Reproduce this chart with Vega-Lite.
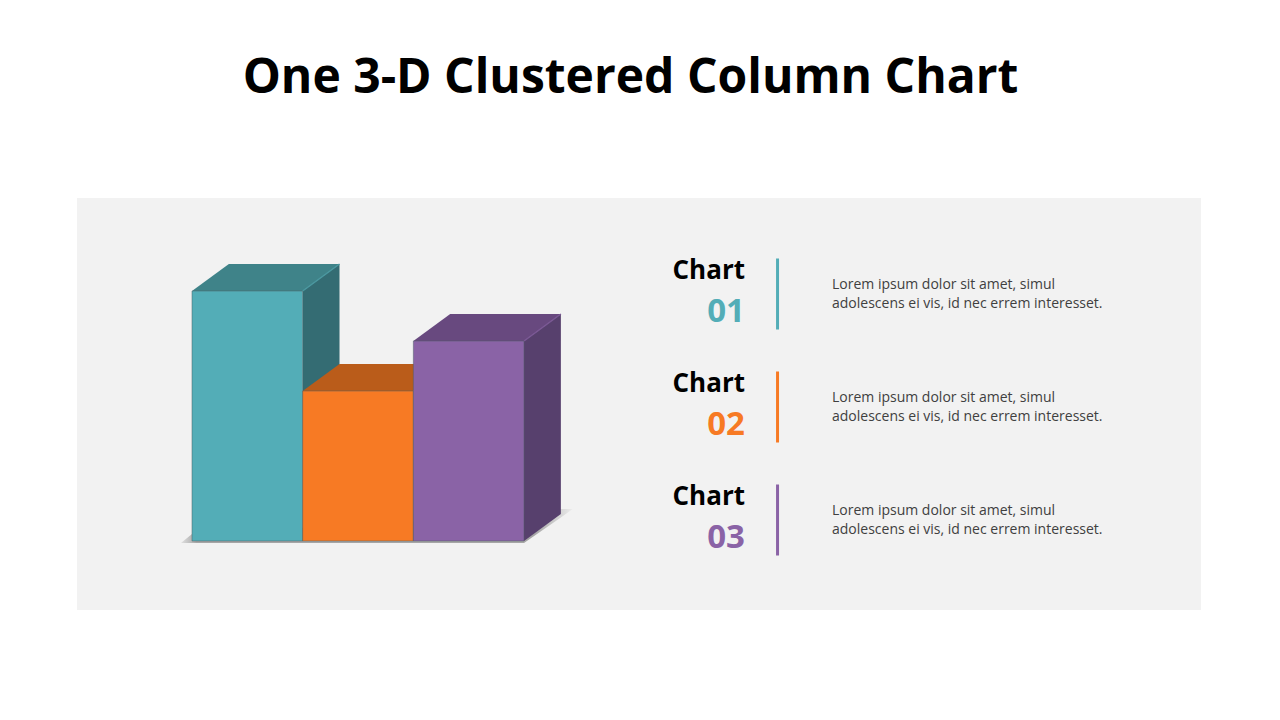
{
  "$schema": "https://vega.github.io/schema/vega-lite/v6.json",
  "background": "#ffffff",
  "padding": {"left": 77, "top": 55, "right": 0, "bottom": 0},
  "title": {
    "text": "One 3-D Clustered Column Chart",
    "font": "Open Sans",
    "fontWeight": "bold",
    "fontSize": 48,
    "color": "#000000",
    "anchor": "middle",
    "dx": -8.5,
    "offset": 95
  },
  "config": {"view": {"stroke": null}, "concat": {"spacing": 0}},
  "resolve": {"scale": {"color": "independent"}},
  "datasets": {
    "fronts": [
      {"part": "01 front", "start": 0, "end": 1, "value": 5},
      {"part": "02 front", "start": 1, "end": 2, "value": 3},
      {"part": "03 front", "start": 2, "end": 3, "value": 4}
    ],
    "faces": [
      {"part": "01 side", "x": 1, "y": 5, "y2": 0},
      {"part": "01 side", "x": 1.333, "y": 5.54, "y2": 0.54},
      {"part": "01 top", "x": 0, "y": 5, "y2": 5},
      {"part": "01 top", "x": 0.333, "y": 5.54, "y2": 5},
      {"part": "01 top", "x": 1, "y": 5.54, "y2": 5},
      {"part": "01 top", "x": 1.333, "y": 5.54, "y2": 5.54},
      {"part": "02 side", "x": 2, "y": 3, "y2": 0},
      {"part": "02 side", "x": 2.333, "y": 3.54, "y2": 0.54},
      {"part": "02 top", "x": 1, "y": 3, "y2": 3},
      {"part": "02 top", "x": 1.333, "y": 3.54, "y2": 3},
      {"part": "02 top", "x": 2, "y": 3.54, "y2": 3},
      {"part": "02 top", "x": 2.333, "y": 3.54, "y2": 3.54},
      {"part": "03 side", "x": 3, "y": 4, "y2": 0},
      {"part": "03 side", "x": 3.333, "y": 4.54, "y2": 0.54},
      {"part": "03 top", "x": 2, "y": 4, "y2": 4},
      {"part": "03 top", "x": 2.333, "y": 4.54, "y2": 4},
      {"part": "03 top", "x": 3, "y": 4.54, "y2": 4},
      {"part": "03 top", "x": 3.333, "y": 4.54, "y2": 4.54}
    ],
    "shadow": [
      {"x": -0.1, "y": -0.04, "y2": -0.04},
      {"x": 0, "y": 0.14, "y2": -0.04},
      {"x": 3, "y": 0.52, "y2": -0.04},
      {"x": 3.333, "y": 0.64, "y2": 0.47},
      {"x": 3.44, "y": 0.64, "y2": 0.64}
    ],
    "edges": [
      {"part": "01 edge", "x": 1, "y": 5},
      {"part": "01 edge", "x": 1.333, "y": 5.54},
      {"part": "03 edge", "x": 3, "y": 4},
      {"part": "03 edge", "x": 3.333, "y": 4.54}
    ],
    "notes": [
      {"chart": "01", "name": "Chart", "line1": "Lorem ipsum dolor sit amet, simul", "line2": "adolescens ei vis, id nec errem interesset."},
      {"chart": "02", "name": "Chart", "line1": "Lorem ipsum dolor sit amet, simul", "line2": "adolescens ei vis, id nec errem interesset."},
      {"chart": "03", "name": "Chart", "line1": "Lorem ipsum dolor sit amet, simul", "line2": "adolescens ei vis, id nec errem interesset."}
    ]
  },
  "hconcat": [
    {
      "width": 563,
      "height": 412,
      "view": {"fill": "#f2f2f2"},
      "encoding": {
        "x": {"field": "x", "type": "quantitative", "axis": null, "scale": {"domain": [-1.039, 4.048], "nice": false, "zero": false}},
        "y": {"field": "y", "type": "quantitative", "axis": null, "stack": null, "scale": {"domain": [-1.38, 6.86], "nice": false, "zero": false}},
        "color": {
          "field": "part",
          "type": "nominal",
          "legend": null,
          "scale": {
            "domain": ["01 front", "01 top", "01 side", "01 edge", "02 front", "02 top", "02 side", "03 front", "03 top", "03 side", "03 edge"],
            "range": ["#53adb7", "#3f8389", "#346c73", "#4a979f", "#f77a24", "#ba5c1a", "#a04f16", "#8a63a6", "#68497f", "#57406d", "#7a5894"]
          }
        }
      },
      "layer": [
        {
          "data": {"name": "shadow"},
          "mark": {"type": "area"},
          "encoding": {
            "y2": {"field": "y2"},
            "color": {
              "value": {
                "gradient": "linear",
                "x1": 0,
                "y1": 0,
                "x2": 1,
                "y2": 0,
                "stops": [
                  {"offset": 0, "color": "#e0e0e0"},
                  {"offset": 0.04, "color": "#a6a6a6"},
                  {"offset": 0.9, "color": "#a6a6a6"},
                  {"offset": 1, "color": "#ececec"}
                ]
              }
            }
          }
        },
        {
          "data": {"name": "faces"},
          "mark": {"type": "area"},
          "encoding": {"y2": {"field": "y2"}}
        },
        {
          "data": {"name": "edges"},
          "mark": {"type": "line", "strokeWidth": 1.5}
        },
        {
          "data": {"name": "fronts"},
          "mark": {"type": "rect", "stroke": "#4b5f63", "strokeOpacity": 0.6, "strokeWidth": 0.8},
          "encoding": {
            "x": {"field": "start", "type": "quantitative"},
            "x2": {"field": "end"},
            "y": {"field": "value", "type": "quantitative"},
            "y2": {"datum": 0}
          }
        }
      ]
    },
    {
      "width": 561,
      "height": 412,
      "view": {"fill": "#f2f2f2"},
      "data": {"name": "notes"},
      "encoding": {
        "x": {"datum": 0, "type": "quantitative", "axis": null, "scale": {"domain": [0, 1], "range": [105, 192], "zero": false, "nice": false}},
        "y": {"field": "chart", "type": "nominal", "axis": null, "scale": {"type": "point", "domain": ["01", "02", "03"], "range": [96, 322], "padding": 0}}
      },
      "layer": [
        {
          "mark": {"type": "text", "font": "Open Sans", "fontWeight": "bold", "fontSize": 26, "align": "right", "baseline": "middle", "color": "#000000", "dy": -23.5},
          "encoding": {"text": {"field": "name"}}
        },
        {
          "mark": {"type": "text", "font": "Open Sans", "fontWeight": "bold", "fontSize": 33, "align": "right", "baseline": "middle", "dy": 18},
          "encoding": {
            "text": {"field": "chart"},
            "color": {"field": "chart", "type": "nominal", "legend": null, "scale": {"domain": ["01", "02", "03"], "range": ["#53adb7", "#f77a24", "#8a63a6"]}}
          }
        },
        {
          "mark": {"type": "tick", "orient": "vertical", "size": 71, "thickness": 3, "opacity": 1},
          "encoding": {
            "x": {"datum": 0.374},
            "color": {"field": "chart", "type": "nominal", "legend": null, "scale": {"domain": ["01", "02", "03"], "range": ["#53adb7", "#f77a24", "#8a63a6"]}}
          }
        },
        {
          "mark": {"type": "text", "font": "Open Sans", "fontSize": 14, "align": "left", "baseline": "middle", "color": "#404040", "dy": -9},
          "encoding": {"x": {"datum": 1}, "text": {"field": "line1"}}
        },
        {
          "mark": {"type": "text", "font": "Open Sans", "fontSize": 14, "align": "left", "baseline": "middle", "color": "#404040", "dy": 10},
          "encoding": {"x": {"datum": 1}, "text": {"field": "line2"}}
        }
      ]
    }
  ]
}
